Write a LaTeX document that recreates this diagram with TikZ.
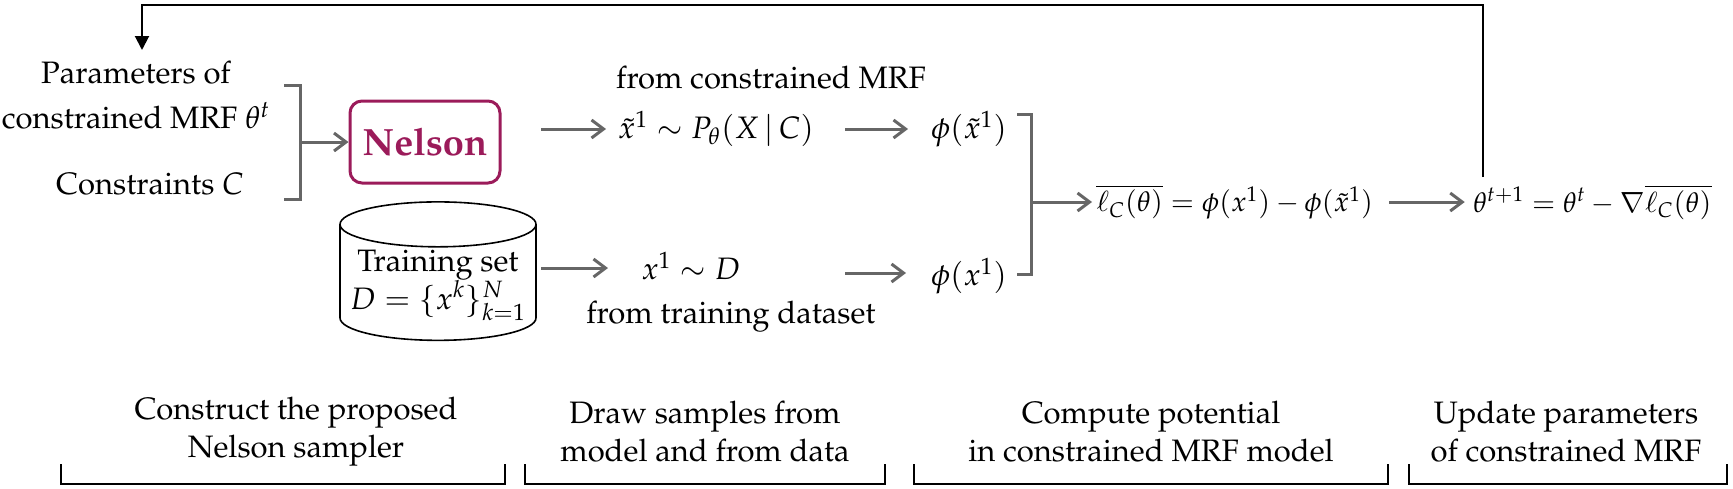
\documentclass[tikz,border=0pt]{standalone}
\usepackage[T1]{fontenc}
\usepackage{mathpazo}
\usetikzlibrary{shapes.geometric,arrows.meta}
\definecolor{nel}{HTML}{9B1B5A}
\definecolor{gr}{HTML}{666666}
\begin{document}
\begin{tikzpicture}[x=0.5pt,y=-0.5pt,font=\fontsize{15.5}{19}\selectfont,
  txt/.style={inner sep=2pt,align=center},
  eq/.style={inner sep=2pt,font=\fontsize{14}{17}\selectfont},
  garr/.style={draw=gr,line width=1.5pt,-{Straight Barb[length=6pt,width=9pt]}},
  gline/.style={draw=gr,line width=1.5pt},
  brk/.style={draw=black,line width=1pt}]
\useasboundingbox (0,0) rectangle (1733,488);
% left
\node[txt] (par) at (136,73) {Parameters of};
\node[txt] (cmrf) at (136,116) {constrained MRF $\theta^t$};
\node[txt] (con) at (150,184) {Constraints $C$};
\coordinate (lb1) at (284,85); \coordinate (lb2) at (300,85);
\coordinate (lb3) at (300,199); \coordinate (lb4) at (284,199);
\coordinate (lbm) at (300,142);
\draw[gline] (lb1)--(lb2)--(lb3)--(lb4);
\node[draw=nel,line width=1.5pt,rounded corners=6pt,minimum width=75pt,minimum height=41pt,text=nel,font=\fontsize{19}{22}\selectfont\bfseries] (nel) at (425,142) {Nelson};
\draw[garr] (lbm)--(nel.west);
\node[cylinder,draw,line width=0.8pt,shape border rotate=90,aspect=0.25,minimum width=98pt,minimum height=65pt,align=center,inner sep=1pt] (db) at (438,285) {Training set\\$D=\{x^k\}_{k=1}^N$};
% middle top
\node[txt] (fcm) at (771,78) {from constrained MRF};
\node[txt] (xt) at (716,129) {$\tilde{x}^1\sim P_\theta(X\,|\,C)$};
\coordinate (a1s) at (541,129); \coordinate (a1e) at (606,129);
\draw[garr] (a1s)--(a1e);
\node[txt] (phit) at (969,129) {$\phi(\tilde{x}^1)$};
\coordinate (a2s) at (845,129); \coordinate (a2e) at (908,129);
\draw[garr] (a2s)--(a2e);
% middle bottom
\node[txt] (x1) at (691,266) {$x^1\sim D$};
\node[txt] (ftd) at (731,317) {from training dataset};
\coordinate (a3s) at (541,268); \coordinate (a3e) at (608,268);
\draw[garr] (a3s)--(a3e);
\node[txt] (phi) at (969,276) {$\phi(x^1)$};
\coordinate (a4s) at (845,273); \coordinate (a4e) at (906,273);
\draw[garr] (a4s)--(a4e);
% right bracket
\coordinate (rb1) at (1017,114); \coordinate (rb2) at (1031,114);
\coordinate (rb3) at (1031,274); \coordinate (rb4) at (1017,274);
\coordinate (rbm) at (1031,202);
\draw[gline] (rb1)--(rb2)--(rb3)--(rb4);
\node[eq,anchor=west] (ell) at (1092,202) {$\overline{\ell_C(\theta)}=\phi(x^1)-\phi(\tilde{x}^1)$};
\draw[garr] (rbm)--(ell.west);
\node[eq,anchor=east,inner sep=4pt] (upd) at (1720,202) {$\theta^{t+1}=\theta^t-\nabla\overline{\ell_C(\theta)}$};
\draw[garr] (ell.east)++(12,0) coordinate (a5s) (a5s)--(upd.west);
% feedback
\coordinate (f1) at (1483,177); \coordinate (f2) at (1483,5);
\coordinate (f3) at (142,5); \coordinate (f4) at (142,50);
\draw[line width=1pt,-{Triangle[length=7pt,width=7pt]}] (f1)--(f2)--(f3)--(f4);
% bottom labels
\node[txt] (l1) at (296,432) {Construct the proposed\\Nelson sampler};
\node[txt] (l2) at (705,432) {Draw samples from\\model and from data};
\node[txt] (l3) at (1151,432) {Compute potential\\in constrained MRF model};
\node[txt] (l4) at (1566,432) {Update parameters\\of constrained MRF};
\foreach \a/\b [count=\i] in {61/505,525/885,914/1388,1409/1727}{
  \coordinate (b\i s) at (\a,464); \coordinate (b\i e) at (\b,464);
  \draw[brk] (b\i s)--++(0,20)-|(b\i e);
}
\end{tikzpicture}
\end{document}
